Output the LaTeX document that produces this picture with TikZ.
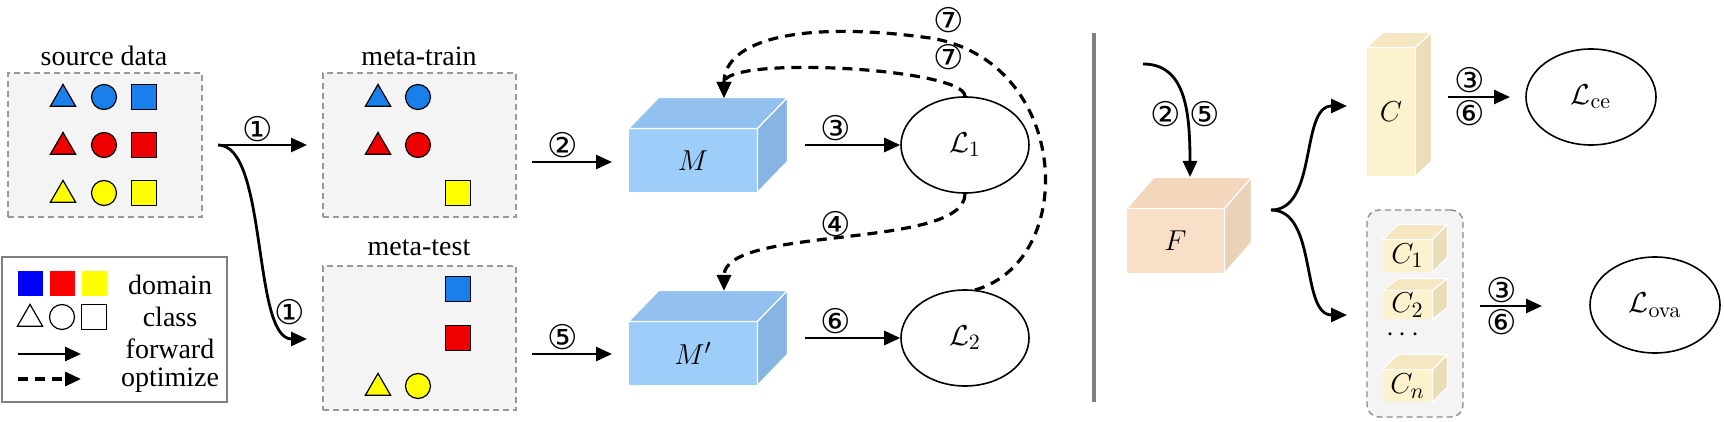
\documentclass[tikz,border=0pt]{standalone}
\usepackage[no-math]{fontspec}
\setmainfont{Liberation Serif}
\newfontfamily\cnumfont{DejaVu Sans}
\usetikzlibrary{shapes.geometric,arrows.meta,calc}
\newcommand{\cn}[1]{{\cnumfont\fontsize{17}{17}\selectfont #1}}
\definecolor{sblue}{HTML}{1A7FEA}
\definecolor{sred}{HTML}{EE0000}
\definecolor{syel}{HTML}{FFFF00}
\definecolor{mfront}{HTML}{9DCDF9}
\definecolor{mtop}{HTML}{92C1EF}
\definecolor{mside}{HTML}{87B5E2}
\definecolor{ffront}{HTML}{F9DFC8}
\definecolor{ftop}{HTML}{F3D7BD}
\definecolor{fside}{HTML}{EAD2B8}
\definecolor{cfront}{HTML}{FDF2CE}
\definecolor{ctop}{HTML}{F5E7C2}
\definecolor{cside}{HTML}{EADDB8}
\newcommand{\cubedeco}[5]{%
  \fill[#4,draw=white,line width=0.6pt] (#1.north west) -- ++(#2,#3) -- ($(#1.north east)+(#2,#3)$) -- (#1.north east) -- cycle;
  \fill[#5,draw=white,line width=0.6pt] (#1.north east) -- ++(#2,#3) -- ($(#1.south east)+(#2,#3)$) -- (#1.south east) -- cycle;}
\begin{document}
\begin{tikzpicture}[x=0.5pt,y=-0.5pt,
  txt/.style={font=\fontsize{14}{16}\selectfont, inner sep=0pt},
  box/.style={draw=gray!80, dashed, fill=gray!9, line width=0.7pt, dash pattern=on 3pt off 2pt},
  tri/.style={regular polygon, regular polygon sides=3, minimum size=14.6pt, inner sep=0pt, draw=black, line width=0.6pt},
  circ/.style={circle, minimum size=12.5pt, inner sep=0pt, draw=black, line width=0.6pt},
  sq/.style={rectangle, minimum size=12.5pt, inner sep=0pt, draw=black, line width=0.6pt},
  fw/.style={-{Triangle[length=8pt,width=7pt]}, line width=1.4pt},
  op/.style={-{Triangle[length=8pt,width=7pt]}, line width=1.6pt, dash pattern=on 5pt off 3.5pt},
  loss/.style={ellipse, draw=black, line width=0.8pt, minimum width=64pt, minimum height=48pt, inner sep=0pt, font=\fontsize{15}{16}\selectfont},
  lossr/.style={ellipse, draw=black, line width=0.8pt, minimum width=65pt, minimum height=48pt, inner sep=0pt, font=\fontsize{15}{16}\selectfont},
  face/.style={rectangle, inner sep=0pt, font=\fontsize{15}{16}\selectfont}]
\useasboundingbox (0,0) rectangle (1724,422);

% boxes
\node[box, minimum width=97pt, minimum height=72pt, inner sep=0pt] (src) at (105,145) {};
\node[txt] (srcl) at (104,56) {source data};
\node[box, minimum width=96.5pt, minimum height=72pt, inner sep=0pt] (mtr) at (419.5,145) {};
\node[txt] (mtrl) at (419,56) {meta-train};
\node[box, minimum width=96.5pt, minimum height=72pt, inner sep=0pt] (mte) at (419.5,338) {};
\node[txt] (mtel) at (419,248) {meta-test};

% source shapes
\node[tri, fill=sblue] (s11) at (63,99) {};
\node[circ, fill=sblue] (s12) at (104,97) {};
\node[sq, fill=sblue] (s13) at (144,97) {};
\node[tri, fill=sred] (s21) at (63,147) {};
\node[circ, fill=sred] (s22) at (104,145) {};
\node[sq, fill=sred] (s23) at (144,145) {};
\node[tri, fill=syel] (s31) at (63,195) {};
\node[circ, fill=syel] (s32) at (104,193) {};
\node[sq, fill=syel] (s33) at (144,193) {};
% meta-train shapes
\node[tri, fill=sblue] (t11) at (378,99) {};
\node[circ, fill=sblue] (t12) at (418,97) {};
\node[tri, fill=sred] (t21) at (378,147) {};
\node[circ, fill=sred] (t22) at (418,145) {};
\node[sq, fill=syel] (t33) at (458,193) {};
% meta-test shapes
\node[sq, fill=sblue] (e13) at (458,289) {};
\node[sq, fill=sred] (e23) at (458,338) {};
\node[tri, fill=syel] (e31) at (378,388) {};
\node[circ, fill=syel] (e32) at (418,386) {};

% legend
\node[draw=gray, line width=0.8pt, minimum width=112.5pt, minimum height=72.5pt, inner sep=0pt] (leg) at (114.5,329.5) {};
\node[sq, draw=none, fill=blue] (lb) at (30,284) {};
\node[sq, draw=none, fill=red] (lr) at (62,284) {};
\node[sq, draw=none, fill=syel] (ly) at (94,284) {};
\node[tri, fill=white] (lt) at (30,319) {};
\node[circ, fill=white] (lc) at (62,317) {};
\node[sq, fill=white] (ls) at (94,317) {};
\node[txt] (ld) at (170,285) {domain};
\node[txt] (lcl) at (170,317) {class};
\node[txt] (lf) at (170,349) {forward};
\node[txt] (lo) at (170,380) {optimize};
\coordinate (lf1) at (18,354); \coordinate (lf2) at (81,354);
\coordinate (lo1) at (18,379); \coordinate (lo2) at (81,379);
\draw[fw] (lf1) -- (lf2);
\draw[op] (lo1) -- (lo2);

% step 1
\coordinate (a1) at (218,145);
\coordinate (a1t) at (307,145);
\coordinate (a1b) at (307,339);
\draw[fw] (a1) -- (a1t);
\draw[fw] (a1) .. controls (268,145) and (252,339) .. (a1b);
\node (n1a) at (258,129) {\cn{①}};
\node (n1b) at (290,312) {\cn{①}};

% cubes M, M'
\node[face, fill=mfront, minimum width=64pt, minimum height=31.5pt] (M) at (693,160.5) {$M$};
\cubedeco{M}{30}{-31}{mtop}{mside}
\node[face, fill=mfront, minimum width=64pt, minimum height=31.5pt] (Mp) at (693,353.5) {$M'$};
\cubedeco{Mp}{30}{-31}{mtop}{mside}
\coordinate (Mtop) at (724,98);
\coordinate (Mptop) at (724,291);

\coordinate (a2s) at (532,162); \coordinate (a2e) at (612,162);
\draw[fw] (a2s) -- (a2e);
\node (n2) at (563,145) {\cn{②}};
\coordinate (a5s) at (532,354); \coordinate (a5e) at (612,354);
\draw[fw] (a5s) -- (a5e);
\node (n5) at (563,337) {\cn{⑤}};

% losses
\node[loss] (L1) at (965,145) {$\mathcal{L}_1$};
\node[loss] (L2) at (965,338) {$\mathcal{L}_2$};
\coordinate (a3s) at (805,145);
\draw[fw] (a3s) -- (L1.west);
\node (n3) at (836,128) {\cn{③}};
\coordinate (a6s) at (805,338);
\draw[fw] (a6s) -- (L2.west);
\node (n6) at (836,321) {\cn{⑥}};

% optimize arrows
\draw[op] (L1.north) .. controls (965,68) and (724,55) .. (Mtop);
\node (n7a) at (949,57) {\cn{⑦}};
\coordinate (L2r) at (975,290);
\draw[op] (L2r) .. controls (1080,260) and (1070,60) .. (930,38) .. controls (800,20) and (724,40) .. (Mtop);
\node (n7b) at (949,20) {\cn{⑦}};
\draw[op] (L1.south) .. controls (965,250) and (724,225) .. (Mptop);
\node (n4) at (836,224) {\cn{④}};

% separator
\coordinate (g1) at (1094,33); \coordinate (g2) at (1094,402);
\draw[gray, line width=2pt] (g1) -- (g2);

% F cube
\node[face, fill=ffront, minimum width=48.5pt, minimum height=32pt] (F) at (1175.5,241) {$F$};
\cubedeco{F}{27}{-31}{ftop}{fside}
\coordinate (fin) at (1143,64);
\coordinate (Ftop) at (1190,177);
\draw[fw] (fin) .. controls (1185,64) and (1190,110) .. (Ftop);
\node (n25a) at (1166,114) {\cn{②}};
\node (n25b) at (1205,114) {\cn{⑤}};

% C bar
\node[face, fill=cfront, minimum width=24pt, minimum height=64pt] (C) at (1391,112) {$C$};
\cubedeco{C}{16}{-15}{ctop}{cside}

% Ci box
\node[draw=gray!90, dashed, fill=gray!9, rounded corners=6pt, line width=0.7pt, dash pattern=on 3pt off 2pt, minimum width=48pt, minimum height=103.5pt, inner sep=0pt] (Cbox) at (1415,313.5) {};
\node[face, fill=cfront, minimum width=24.5pt, minimum height=16pt] (C1) at (1407.5,256) {$C_1$};
\cubedeco{C1}{15}{-15}{ctop}{cside}
\node[face, fill=cfront, minimum width=24.5pt, minimum height=14pt] (C2) at (1407.5,305) {$C_2$};
\cubedeco{C2}{15}{-12}{ctop}{cside}
\node[font=\fontsize{15}{16}\selectfont] (dots) at (1403,335) {$\cdots$};
\node[face, fill=cfront, minimum width=24.5pt, minimum height=16pt] (Cn) at (1407.5,386) {$C_n$};
\cubedeco{Cn}{15}{-15}{ctop}{cside}

% branch
\coordinate (br) at (1271,210);
\coordinate (bru) at (1347,106);
\coordinate (brd) at (1347,315);
\draw[fw] (br) .. controls (1318,210) and (1300,106) .. (bru);
\draw[fw] (br) .. controls (1318,210) and (1300,315) .. (brd);

% right losses
\node[lossr] (Lce) at (1591,97) {$\mathcal{L}_{\mathrm{ce}}$};
\node[lossr] (Lova) at (1655,305) {$\mathcal{L}_{\mathrm{ova}}$};
\coordinate (rc1) at (1448,97);
\coordinate (rc2) at (1510,97);
\draw[fw] (rc1) -- (rc2);
\node (n3c) at (1470,80) {\cn{③}};
\node (n6c) at (1470,113) {\cn{⑥}};
\coordinate (ro1) at (1480,306);
\coordinate (ro2) at (1542,306);
\draw[fw] (ro1) -- (ro2);
\node (n3o) at (1502,290) {\cn{③}};
\node (n6o) at (1502,322) {\cn{⑥}};
\end{tikzpicture}
\end{document}
